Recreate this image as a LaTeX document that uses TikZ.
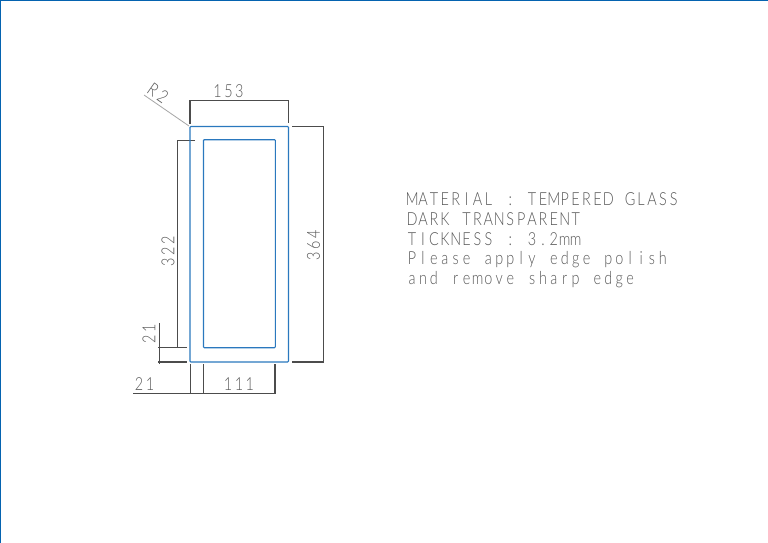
\documentclass[tikz,border=0pt]{standalone}
\usepackage{fontspec}
\newfontfamily\cadfont[UprightFont={* Light},FakeStretch=0.8]{Lato}
\definecolor{glassblue}{HTML}{2A78BE}
\definecolor{frameblue}{HTML}{0563B0}
\makeatletter
\newcommand\cadchars[1]{\@tfor\next:=#1\do{\makebox[10.9pt][c]{\next}}}
\makeatother
\tikzset{
    dimline/.style={draw=black!70, line width=1.2pt},
    glassline/.style={draw=glassblue, line width=1.1pt, rounded corners=0.8pt},
    dimtext/.style={text=black!65, font=\cadfont\fontsize{18}{18}\selectfont, inner sep=0pt},
    notetext/.style={dimtext, anchor=base west}
}
\begin{document}
\begin{tikzpicture}[x=1pt,y=-1pt]
    \useasboundingbox (0,0) rectangle (768,543);
    \fill[white] (0,0) rectangle (768,543);
    \draw[frameblue, line width=1.4pt] (0.7,543) -- (0.7,0.7) -- (768,0.7);

    % leader
    \draw[black!35, line width=0.8pt] (144,95) -- (189,126);
    \node[dimtext, rotate=-35] (radius) at (158,93.5) {\addfontfeature{LetterSpace=20}R2};

    % width on top
    \draw[dimline] (190,124) -- (190,100.3) -- (288.5,100.3) -- (288.5,123);
    \node[dimtext] (width) at (228.5,91) {\cadchars{153}};

    % height on the right
    \draw[dimline] (292,126.5) -- (323.3,126.5) -- (323.3,362) -- (292,362);
    \node[dimtext, rotate=90] (height) at (313.5,245) {\cadchars{364}};

    % inner height
    \draw[dimline] (195,140.5) -- (177.5,140.5) -- (177.5,347.7);
    \node[dimtext, rotate=90] (innerheight) at (168,251) {\cadchars{322}};

    % border at the bottom, vertical
    \draw[dimline] (159.5,323) -- (159.5,364);
    \draw[dimline] (158,347.7) -- (187,347.7);
    \draw[dimline] (158,362) -- (187,362);
    \node[dimtext, rotate=90] (borderv) at (149,334) {\cadchars{21}};

    % bottom dimensions
    \draw[dimline] (133,393.7) -- (275,393.7);
    \draw[dimline] (190.3,364) -- (190.3,393.7);
    \draw[dimline] (203.5,364) -- (203.5,393.7);
    \draw[dimline] (275,364) -- (275,393.7);
    \node[dimtext] (borderh) at (144.5,384) {\cadchars{21}};
    \node[dimtext] (innerwidth) at (239,384) {\cadchars{111}};

    % glass
    \draw[glassline] (190,126.5) rectangle (288.5,362);
    \draw[glassline] (203.5,139.7) rectangle (275.3,347.7);

    % notes
    \node[notetext] (note1) at (406.5,205.5) {\cadchars{MATERIAL~:~TEMPERED~GLASS}};
    \node[notetext] (note2) at (406.5,225) {\cadchars{DARK~TRANSPARENT}};
    \node[notetext] (note3) at (406.5,245) {\cadchars{TICKNESS~:~3.2mm}};
    \node[notetext] (note4) at (406.5,264.5) {\cadchars{Please~apply~edge~polish}};
    \node[notetext] (note5) at (406.5,284) {\cadchars{and~remove~sharp~edge}};
\end{tikzpicture}
\end{document}
